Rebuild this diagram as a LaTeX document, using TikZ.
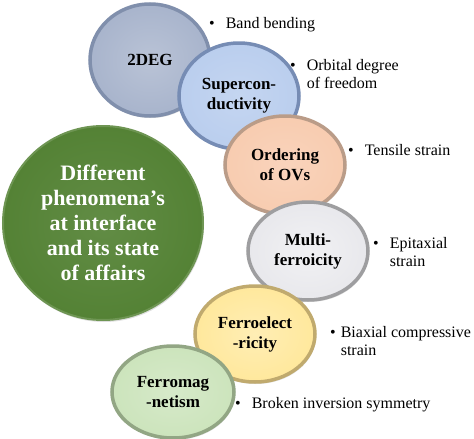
\documentclass[tikz,border=0pt]{standalone}
\usepackage{fontspec}
\setmainfont{Liberation Serif}
\usetikzlibrary{shapes.geometric,shadows}
\definecolor{degfill}{RGB}{168,180,204}
\definecolor{degedge}{RGB}{128,143,172}
\definecolor{supfill}{RGB}{186,206,238}
\definecolor{supedge}{RGB}{118,140,180}
\definecolor{ordfill}{RGB}{248,204,176}
\definecolor{ordedge}{RGB}{186,156,136}
\definecolor{mulfill}{RGB}{232,232,236}
\definecolor{muledge}{RGB}{158,158,160}
\definecolor{felfill}{RGB}{255,232,156}
\definecolor{feledge}{RGB}{192,170,110}
\definecolor{fmgfill}{RGB}{204,228,188}
\definecolor{fmgedge}{RGB}{146,166,132}
\definecolor{leafgreen}{RGB}{84,130,53}
\newcommand{\bul}[2][11pt]{\textbullet\hspace{#1}\begin{tabular}[t]{@{}l@{}}#2\end{tabular}}

\begin{document}
\begin{tikzpicture}[x=1pt, y=-1pt,
  phen/.style={ellipse, inner sep=0pt, minimum width=120pt, line width=3.5pt, align=center,
               font=\fontsize{17}{20}\selectfont\bfseries,
               drop shadow={opacity=.25, shadow xshift=1pt, shadow yshift=-2pt}},
  note/.style={anchor=base west, inner sep=0pt, font=\fontsize{16}{18}\selectfont},
]
\useasboundingbox (0,0) rectangle (474,439);
% central circle
\node[ellipse, inner sep=0pt, minimum width=200pt, minimum height=194pt, line width=2pt,
      draw=leafgreen!85!white, inner color=leafgreen!92!white, outer color=leafgreen,
      drop shadow={opacity=.25, shadow xshift=1pt, shadow yshift=-2pt},
      text=white, align=center, font=\fontsize{22}{25}\selectfont\bfseries] (main) at (103,223)
  {Different\\phenomena’s\\at interface\\and its state\\of affairs};
% phenomena, back to front
\node[phen, minimum height=112pt, draw=degedge, inner color=degfill!80!white, outer color=degfill] (deg) at (150,60) {2DEG};
\node[phen, minimum height=106pt, draw=supedge, inner color=supfill!85!white, outer color=supfill] (sup) at (239,96) {Supercon-\\ductivity};
\node[phen, minimum height=98pt, draw=ordedge, inner color=ordfill!85!white, outer color=ordfill] (ord) at (285,165) {Ordering\\of OVs};
\node[phen, minimum height=98pt, draw=muledge, inner color=mulfill!60!white, outer color=mulfill] (mul) at (308,251) {Multi-\\ferroicity};
\node[phen, minimum height=96pt, draw=feledge, inner color=felfill!75!white, outer color=felfill] (fel) at (255,334) {Ferroelect\\-ricity};
\node[phen, minimum width=122pt, minimum height=92pt, draw=fmgedge, inner color=fmgfill!80!white, outer color=fmgfill] (fmg) at (173,392) {Ferromag\\-netism};
% notes
\node[note] (band) at (209,28) {\bul{Band bending}};
\node[note] (orb) at (290,70) {\bul{Orbital degree\\of freedom}};
\node[note] (tens) at (348,155) {\bul{Tensile strain}};
\node[note] (epi) at (373,248) {\bul{Epitaxial\\strain}};
\node[note] (biax) at (330,337) {\bul[5pt]{Biaxial compressive\\strain}};
\node[note] (brok) at (235,408) {\bul{Broken inversion symmetry}};
\end{tikzpicture}
\end{document}
